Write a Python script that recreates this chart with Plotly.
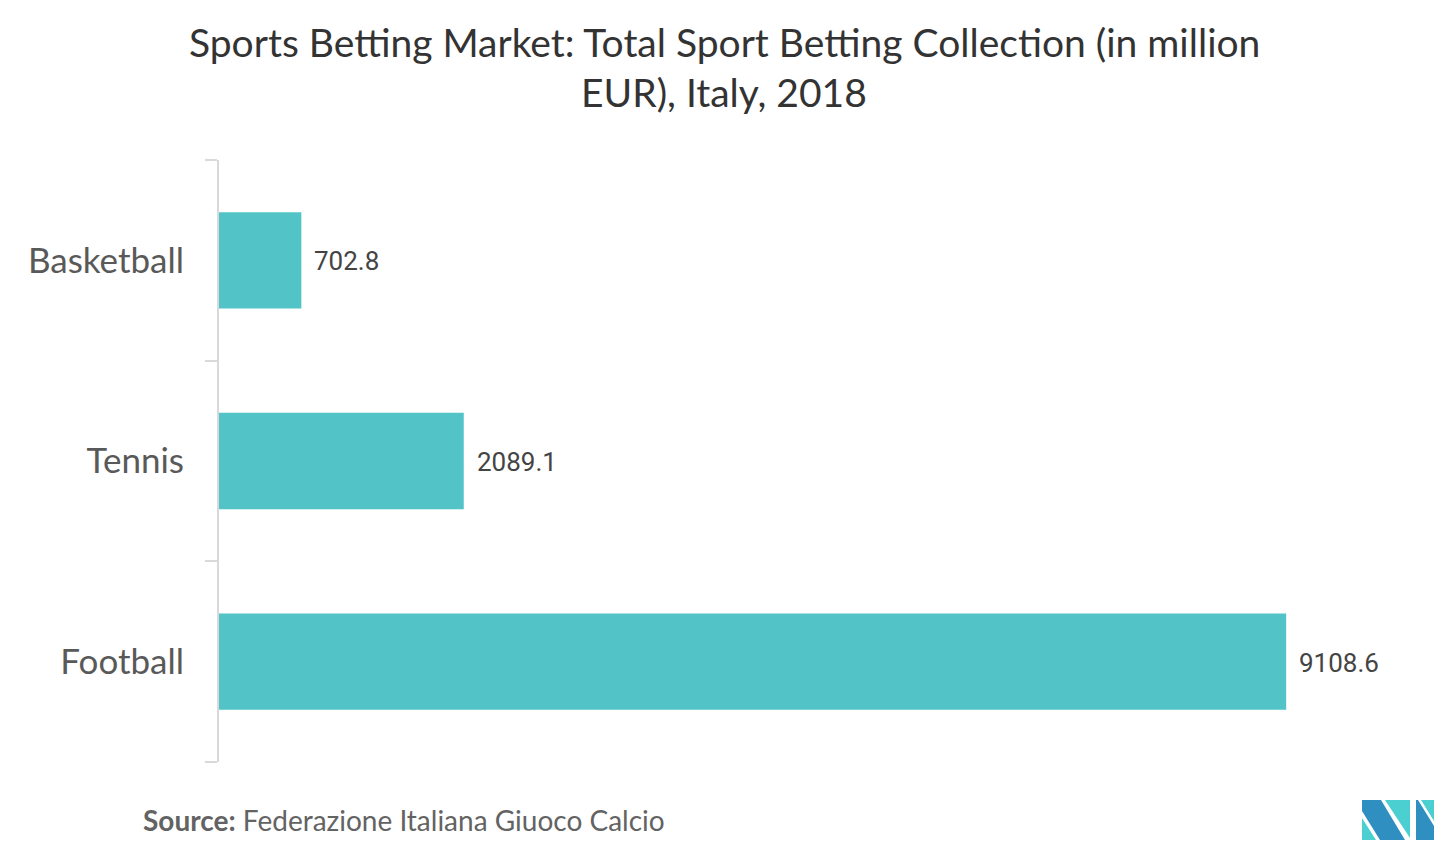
import plotly.graph_objects as go

categories = ["Football", "Tennis", "Basketball"]
values = [9108.6, 2089.1, 702.8]
value_labels = ["9108.6", "2089.1", "702.8"]

W, H = 1448, 857
L, R, T, B = 219, 48, 160, 95
PW, PH = W - L - R, H - T - B

def px(x):
    return (x - L) / PW

def py(y):
    return (H - B - y) / PH

fig = go.Figure()
fig.add_trace(go.Bar(
    x=values, y=categories, orientation="h",
    marker=dict(color="#52c4c7", line=dict(width=0)),
    hoverinfo="skip",
))

annotations = []
for v, lab, c in zip(values, value_labels, categories):
    annotations.append(dict(x=v, y=c, xref="x", yref="y", text=lab, showarrow=False,
                            xanchor="left", xshift=11, yshift=-1,
                            font=dict(family="Roboto", size=26, color="#444444")))

annotations.append(dict(x=px(724), y=py(42), xref="paper", yref="paper",
                        text="Sports Betting Market: Total Sport Betting Collection (in million",
                        showarrow=False, xanchor="center", yanchor="middle",
                        font=dict(family="Lato", size=39, color="#333333")))
annotations.append(dict(x=px(724), y=py(92), xref="paper", yref="paper",
                        text="EUR), Italy, 2018",
                        showarrow=False, xanchor="center", yanchor="middle",
                        font=dict(family="Lato", size=39, color="#333333")))
annotations.append(dict(x=px(141), y=py(820), xref="paper", yref="paper",
                        text="<b>Source:</b> Federazione Italiana Giuoco Calcio",
                        showarrow=False, xanchor="left", yanchor="middle",
                        font=dict(family="Lato", size=28, color="#636363")))

def poly(pts, color):
    d = "M " + " L ".join(f"{px(x)},{py(y)}" for x, y in pts) + " Z"
    return dict(type="path", path=d, xref="paper", yref="paper",
                fillcolor=color, line=dict(width=0), layer="above")

dark = "#2e8fc0"
teal = "#4ccfd0"
shapes = [
    poly([(1362, 818), (1362, 840), (1376, 840)], teal),
    poly([(1362, 800), (1381, 800), (1405, 840), (1380, 840), (1362, 811)], dark),
    poly([(1385, 800), (1410, 800), (1410, 838)], teal),
    poly([(1416, 800), (1418, 800), (1434, 826), (1434, 840), (1416, 840)], dark),
    poly([(1421, 800), (1434, 800), (1434, 821)], teal),
]

fig.update_layout(
    width=W, height=H,
    margin=dict(l=L, r=R, t=T, b=B, autoexpand=False),
    paper_bgcolor="white", plot_bgcolor="white",
    showlegend=False,
    bargap=0.52,
    xaxis=dict(range=[0, 10080], visible=False, showgrid=False, zeroline=False),
    yaxis=dict(type="category", range=[-0.5, 2.5], tickson="boundaries",
               ticks="outside", ticklen=12, tickwidth=2, tickcolor="#d9d9d9",
               showline=True, linecolor="#d9d9d9", linewidth=2,
               showgrid=False, zeroline=False, ticklabelstandoff=26,
               tickfont=dict(family="Lato", size=35, color="#595959")),
    annotations=annotations,
    shapes=shapes,
)

fig.write_html("out.html", config={"displayModeBar": False},
               post_script="document.body.style.margin='0';document.body.style.overflow='hidden';")
